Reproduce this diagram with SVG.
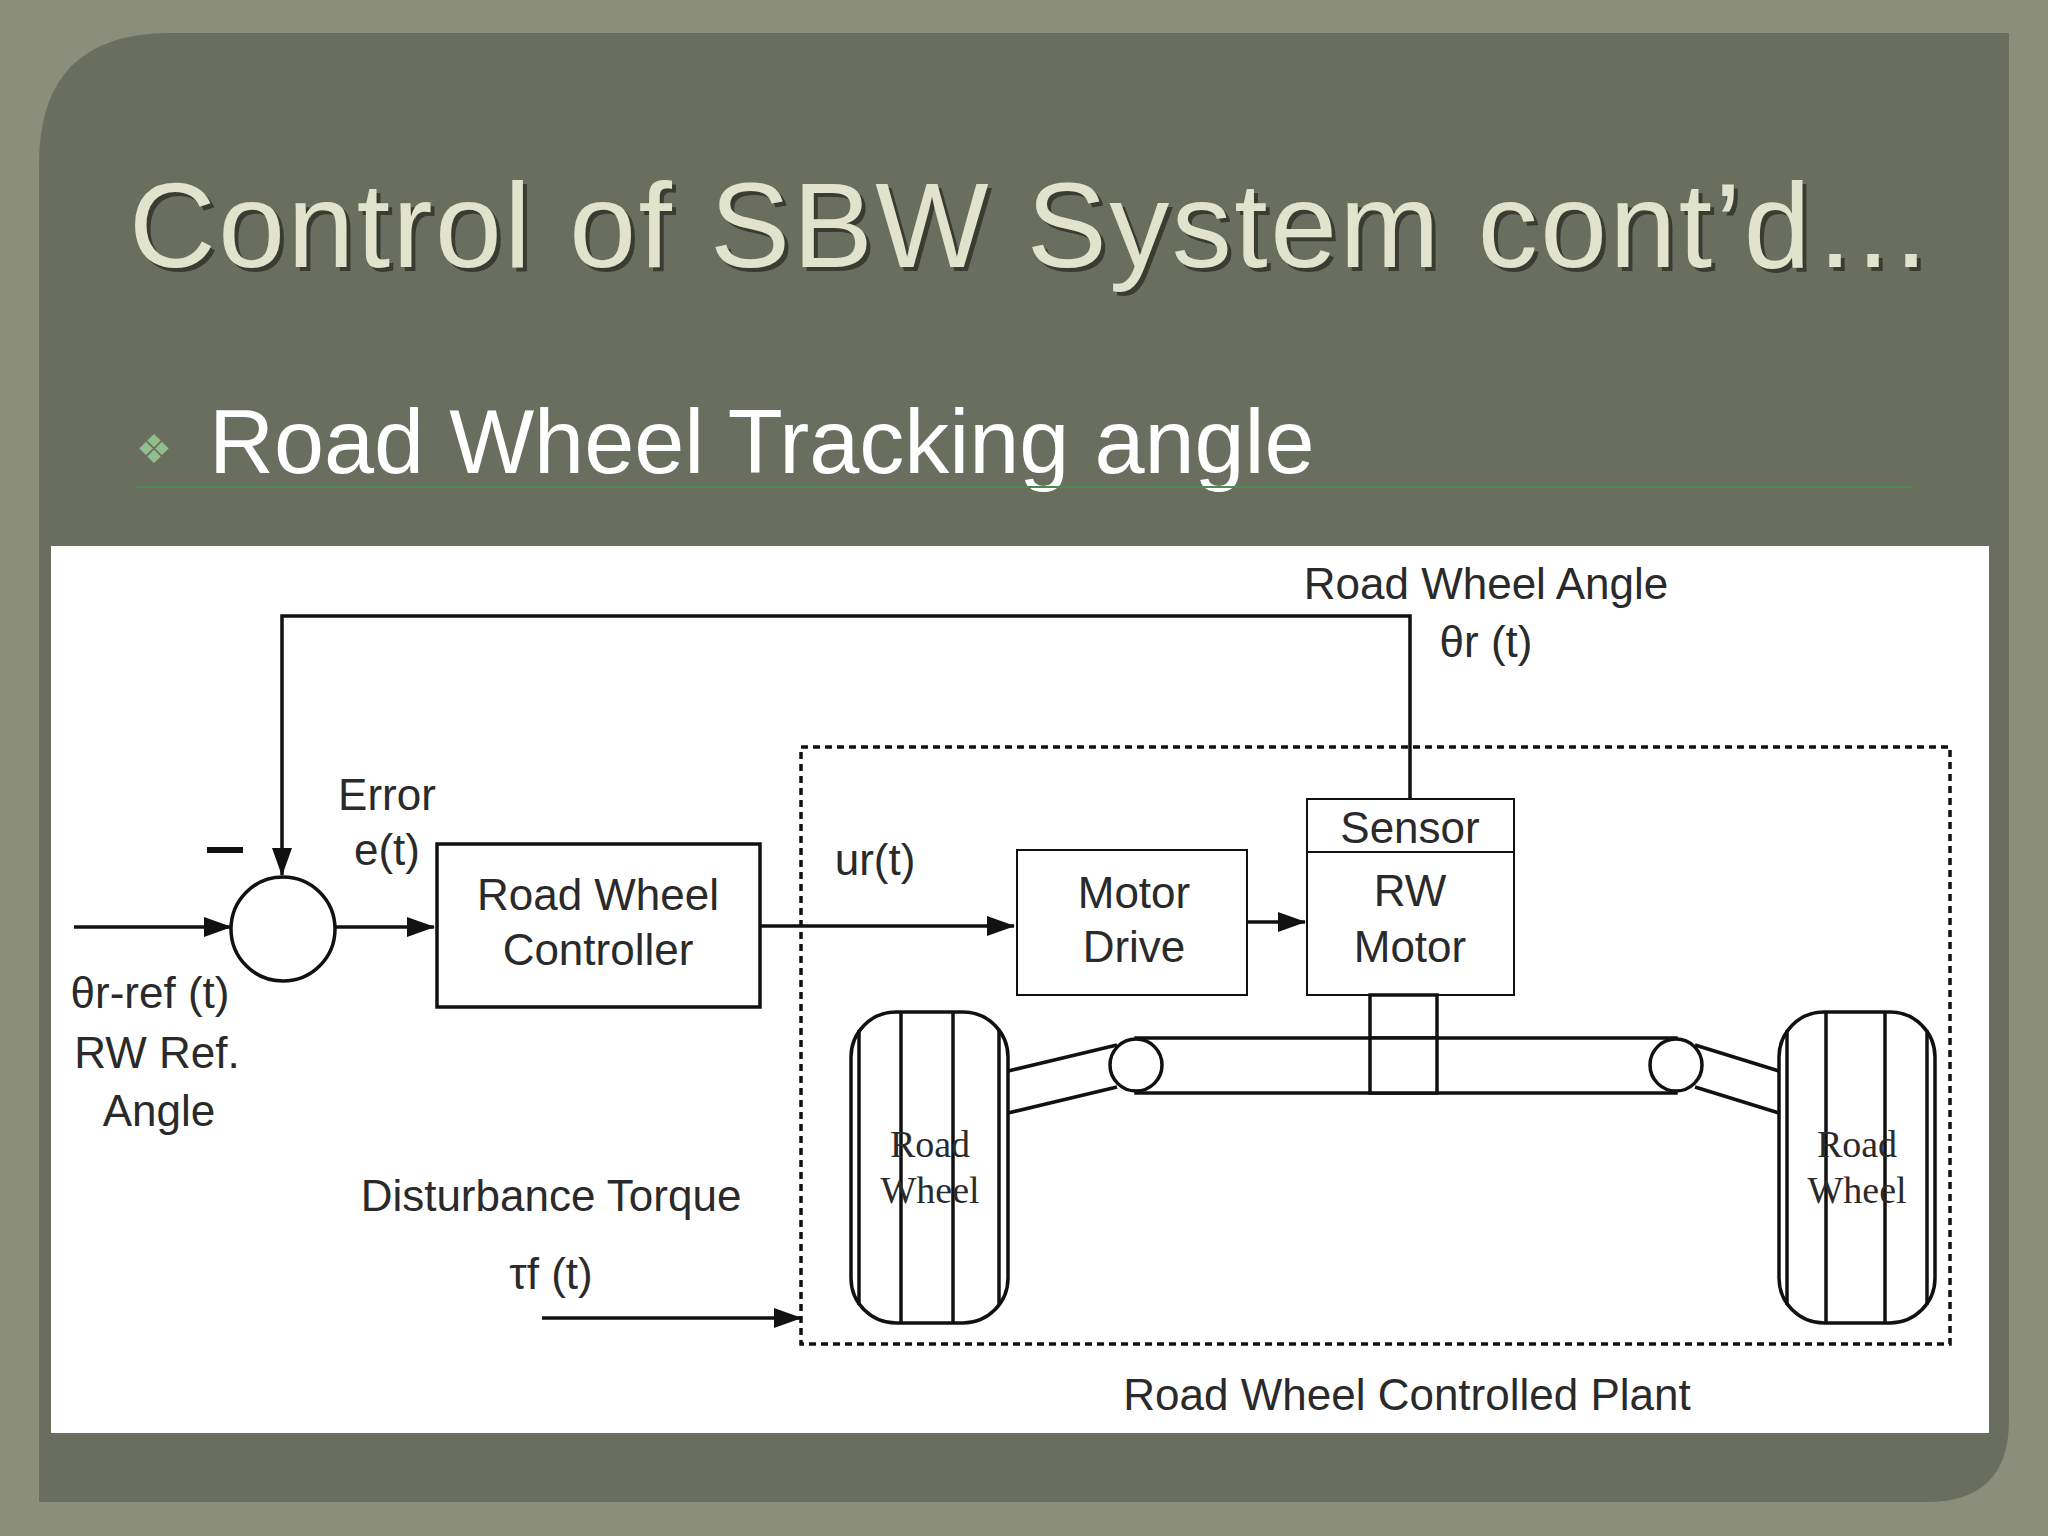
<svg xmlns="http://www.w3.org/2000/svg" width="2048" height="1536" viewBox="0 0 2048 1536">
<defs>
<marker id="ah" markerWidth="28" markerHeight="20" refX="27" refY="10" orient="auto" markerUnits="userSpaceOnUse">
<path d="M0,0 L28,10 L0,20 z" fill="#111"/>
</marker>
</defs>
<style>
.ln{stroke:#111;stroke-width:3.5;fill:none}
.bx{stroke:#111;stroke-width:3.5;fill:#fff}
.tx{font-family:"Liberation Sans",Arial,sans-serif;font-size:44px;fill:#2a2a2a;text-anchor:middle}
.sf{font-family:"Liberation Serif","Times New Roman",serif;font-size:38px;fill:#2a2a2a;text-anchor:middle}
</style>
<rect width="2048" height="1536" fill="#8a8e7b"/>
<path d="M170,33 H2009 V1420 Q2009,1502 1927,1502 H39 V164 Q39,33 170,33 z" fill="#6a6e5f"/>
<text x="133" y="271" font-family="Liberation Sans,Arial,sans-serif" font-size="120" letter-spacing="2.5" fill="#3a3c32">Control of SBW System cont’d…</text>
<text x="129" y="267" font-family="Liberation Sans,Arial,sans-serif" font-size="120" letter-spacing="2.5" fill="#e2e3cc">Control of SBW System cont’d…</text>
<text x="154" y="463" font-family="DejaVu Sans,sans-serif" font-size="40" fill="#8fbf8f" text-anchor="middle">❖</text>
<text x="209" y="473" font-family="Liberation Sans,Arial,sans-serif" font-size="90" fill="#ffffff">Road Wheel Tracking angle</text>
<line x1="137" y1="487" x2="1913" y2="487" stroke="#4f8a4f" stroke-width="2"/>
<rect x="51" y="546" width="1938" height="887" fill="#ffffff"/>
<g id="connectors">
<polyline class="ln" points="1410,799 1410,616 282,616 282,875" marker-end="url(#ah)"/>
<line class="ln" x1="74" y1="927" x2="231" y2="927" marker-end="url(#ah)"/>
<line class="ln" x1="336" y1="927" x2="434" y2="927" marker-end="url(#ah)"/>
<line class="ln" x1="760" y1="926" x2="1014" y2="926" marker-end="url(#ah)"/>
<line class="ln" x1="1247" y1="922" x2="1305" y2="922" marker-end="url(#ah)"/>
<line class="ln" x1="542" y1="1318" x2="801" y2="1318" marker-end="url(#ah)"/>
</g>
<g id="sum"><circle class="bx" cx="283" cy="929" r="52"/><line x1="207" y1="850" x2="243" y2="850" stroke="#111" stroke-width="6"/></g>
<g id="labels">
<text class="tx" x="387" y="810">Error</text>
<text class="tx" x="387" y="865">e(t)</text>
<text class="tx" x="150" y="1008">θr-ref (t)</text>
<text class="tx" x="157" y="1068">RW Ref.</text>
<text class="tx" x="159" y="1126">Angle</text>
<text class="tx" x="875" y="875">ur(t)</text>
<text class="tx" x="551" y="1211">Disturbance Torque</text>
<text class="tx" x="551" y="1289">τf (t)</text>
<text class="tx" x="1407" y="1410">Road Wheel Controlled Plant</text>
<text class="tx" x="1486" y="599">Road Wheel Angle</text>
<text class="tx" x="1486" y="657">θr (t)</text>
</g>
<g id="controller"><rect class="bx" x="437" y="844" width="323" height="163"/>
<text class="tx" x="598" y="910">Road Wheel</text><text class="tx" x="598" y="965">Controller</text></g>
<g id="plant"><rect x="801" y="747" width="1149" height="597" fill="none" stroke="#111" stroke-width="3.5" stroke-dasharray="7,5"/></g>
<g id="motordrive"><rect x="1017" y="850" width="230" height="145" fill="#fff" stroke="#111" stroke-width="2"/>
<text class="tx" x="1134" y="908">Motor</text><text class="tx" x="1134" y="962">Drive</text></g>
<g id="motor"><rect x="1307" y="799" width="207" height="196" fill="#fff" stroke="#111" stroke-width="2"/>
<line x1="1307" y1="852" x2="1514" y2="852" stroke="#111" stroke-width="2"/>
<text class="tx" x="1410" y="843">Sensor</text><text class="tx" x="1410" y="906">RW</text><text class="tx" x="1410" y="962">Motor</text></g>
<g id="axle">
<line class="ln" x1="1117" y1="1045" x2="1008" y2="1071"/><line class="ln" x1="1117" y1="1087" x2="1008" y2="1113"/>
<line class="ln" x1="1695" y1="1045" x2="1779" y2="1071"/><line class="ln" x1="1695" y1="1087" x2="1779" y2="1113"/>
<rect class="bx" x="1136" y="1038" width="540" height="55"/>
<rect class="bx" x="1370" y="995" width="67" height="43"/>
<rect class="bx" x="1370" y="1038" width="67" height="55"/>
<circle class="bx" cx="1136" cy="1065" r="26"/><circle class="bx" cx="1676" cy="1065" r="26"/>
</g>
<g id="wheelL"><rect class="bx" x="851" y="1012" width="157" height="311" rx="45"/>
<line class="ln" x1="859" y1="1030" x2="859" y2="1305"/><line class="ln" x1="901" y1="1013" x2="901" y2="1322"/><line class="ln" x1="953" y1="1013" x2="953" y2="1322"/><line class="ln" x1="999" y1="1030" x2="999" y2="1305"/>
<text class="sf" x="930" y="1157">Road</text><text class="sf" x="930" y="1203">Wheel</text></g>
<g id="wheelR"><rect class="bx" x="1779" y="1012" width="156" height="311" rx="45"/>
<line class="ln" x1="1787" y1="1030" x2="1787" y2="1305"/><line class="ln" x1="1826" y1="1013" x2="1826" y2="1322"/><line class="ln" x1="1885" y1="1013" x2="1885" y2="1322"/><line class="ln" x1="1927" y1="1030" x2="1927" y2="1305"/>
<text class="sf" x="1857" y="1157">Road</text><text class="sf" x="1857" y="1203">Wheel</text></g>
</svg>
